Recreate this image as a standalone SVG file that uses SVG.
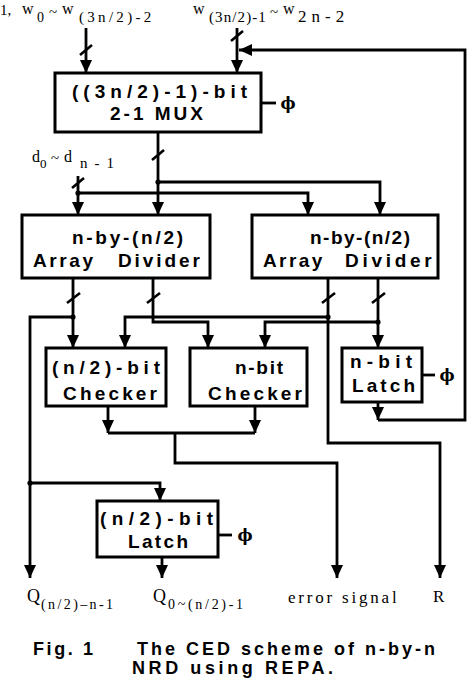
<svg xmlns="http://www.w3.org/2000/svg" width="470" height="678" viewBox="0 0 470 678">
<style>
.box{fill:#fff;stroke:#000;stroke-width:3}
.bt{font-family:"Liberation Sans","Arial",sans-serif;font-weight:bold;font-size:19px;fill:#000}
.sr{font-family:"Liberation Serif","Times New Roman",serif;fill:#000}
.ph{font-family:"DejaVu Serif","Liberation Serif",serif;font-weight:bold;font-size:16px;fill:#000;text-anchor:middle}
.cap{font-family:"Liberation Sans","Arial",sans-serif;font-weight:bold;font-size:18px;fill:#000}
.w{fill:none;stroke:#000;stroke-width:2.8}
.a{marker-end:url(#ah)}
.sl{stroke:#000;stroke-width:2.6}
.dot{fill:#000}
</style>
<defs>
<marker id="ah" markerUnits="userSpaceOnUse" markerWidth="13" markerHeight="12" refX="13" refY="6" orient="auto" viewBox="0 0 13 12"><path d="M0,0 L13,6 L0,12 z" fill="#000"/></marker>
</defs>
<rect width="470" height="678" fill="#fff"/>

<g id="top-labels">
<text class="sr" font-size="15"><tspan x="0" y="15">1,</tspan><tspan x="22" y="14" font-size="16">w</tspan><tspan x="37" y="22" font-size="14">0</tspan><tspan x="49" y="17">~</tspan><tspan x="62" y="14" font-size="16">w</tspan><tspan x="79" y="22" font-size="15" letter-spacing="3.3">(3n/2)-2</tspan></text>
<text class="sr" font-size="15"><tspan x="193" y="14" font-size="16">w</tspan><tspan x="209" y="22" font-size="15" letter-spacing="1.1">(3n/2)-1</tspan><tspan x="270" y="17">~</tspan><tspan x="283" y="14" font-size="16">w</tspan><tspan x="298" y="22" font-size="17" letter-spacing="5">2n-2</tspan></text>
</g>

<g id="mux">
<rect class="box" x="55" y="73" width="206" height="59"/>
<text class="bt" x="72" y="98" textLength="175" lengthAdjust="spacing">((3n/2)-1)-bit</text>
<text class="bt" x="110" y="120" textLength="93" lengthAdjust="spacing">2-1 MUX</text>
<text class="ph" x="288" y="109">ϕ</text>
</g>

<g id="d-label">
<text class="sr" font-size="16"><tspan x="32" y="162">d</tspan><tspan x="40" y="168" font-size="13">0</tspan><tspan x="51" y="163" font-size="15">~</tspan><tspan x="64" y="162">d</tspan><tspan x="80" y="168" font-size="15" letter-spacing="7">n-1</tspan></text>
</g>

<g id="divider-left">
<rect class="box" x="22" y="215" width="188" height="63"/>
<text class="bt" x="72" y="244" textLength="111" lengthAdjust="spacing">n-by-(n/2)</text>
<text class="bt" y="267"><tspan x="33" letter-spacing="2.6">Array</tspan><tspan x="118" letter-spacing="2.9">Divider</tspan></text>
</g>

<g id="divider-right">
<rect class="box" x="252" y="215" width="186" height="63"/>
<text class="bt" x="310" y="244" textLength="100" lengthAdjust="spacing">n-by-(n/2)</text>
<text class="bt" y="267"><tspan x="263" letter-spacing="2.4">Array</tspan><tspan x="345" letter-spacing="3.7">Divider</tspan></text>
</g>

<g id="checker-half">
<rect class="box" x="46" y="348" width="120" height="58"/>
<text class="bt" x="52" y="374" textLength="108" lengthAdjust="spacing">(n/2)-bit</text>
<text class="bt" x="63" y="400" textLength="94" lengthAdjust="spacing">Checker</text>
</g>

<g id="checker-n">
<rect class="box" x="190" y="348" width="117" height="58"/>
<text class="bt" x="235" y="374" textLength="48" lengthAdjust="spacing">n-bit</text>
<text class="bt" x="208" y="400" textLength="94" lengthAdjust="spacing">Checker</text>
</g>

<g id="latch-n">
<rect class="box" x="342" y="348" width="80" height="54"/>
<text class="bt" x="350" y="368" textLength="62" lengthAdjust="spacing">n-bit</text>
<text class="bt" x="352" y="392" textLength="63" lengthAdjust="spacing">Latch</text>
<text class="ph" x="447" y="381">ϕ</text>
</g>

<g id="latch-half">
<rect class="box" x="97" y="501" width="121" height="56"/>
<text class="bt" x="100" y="525" textLength="113" lengthAdjust="spacing">(n/2)-bit</text>
<text class="bt" x="128" y="548" textLength="60" lengthAdjust="spacing">Latch</text>
<text class="ph" x="245" y="541">ϕ</text>
</g>

<g id="connectors">
<path class="w a" d="M86,28 V73"/>
<path class="w a" d="M237,28 V73"/>
<path class="w a" d="M378,402 V420"/>
<path class="w a" d="M378,420 H465 V50 H239"/>
<path class="w" d="M261,103 H276"/>
<path class="w a" d="M158,132 V215"/>
<path class="w a" d="M158,182 H380 V215"/>
<path class="w a" d="M78,176 V215"/>
<path class="w a" d="M78,193 H308 V215"/>
<path class="w a" d="M73,278 V348"/>
<path class="w a" d="M73,317 H30 V578"/>
<path class="w a" d="M153,278 V322 H208 V348"/>
<path class="w a" d="M328,278 V443 H440 V578"/>
<path class="w a" d="M328,317 H125 V348"/>
<path class="w a" d="M378,278 V348"/>
<path class="w a" d="M378,322 H265 V348"/>
<path class="w a" d="M108,406 V433"/>
<path class="w a" d="M255,406 V433"/>
<path class="w" d="M108,433 H255"/>
<path class="w a" d="M175,433 V463 H337 V578"/>
<path class="w a" d="M30,483 H160 V501"/>
<path class="w a" d="M162,557 V578"/>
<path class="w" d="M218,535 H232"/>
<path class="w" d="M422,375 H435"/>
<line class="sl" x1="80" y1="55" x2="92" y2="45"/>
<line class="sl" x1="231" y1="41" x2="243" y2="31"/>
<line class="sl" x1="152" y1="160" x2="164" y2="150"/>
<line class="sl" x1="72" y1="188" x2="84" y2="178"/>
<line class="sl" x1="67" y1="303" x2="80" y2="293"/>
<line class="sl" x1="147" y1="303" x2="160" y2="293"/>
<line class="sl" x1="322" y1="303" x2="335" y2="293"/>
<line class="sl" x1="372" y1="303" x2="385" y2="293"/>
<circle class="dot" cx="158" cy="182" r="2.6"/>
<circle class="dot" cx="78" cy="193" r="2.6"/>
<circle class="dot" cx="73" cy="317" r="2.6"/>
<circle class="dot" cx="328" cy="317" r="2.6"/>
<circle class="dot" cx="378" cy="322" r="2.6"/>
<circle class="dot" cx="30" cy="483" r="2.6"/>
</g>

<g id="output-labels">
<text class="sr" font-size="18"><tspan x="27" y="602">Q</tspan><tspan x="41" y="609" font-size="14" letter-spacing="2.4">(n/2)–n-1</tspan></text>
<text class="sr" font-size="18"><tspan x="153" y="602">Q</tspan><tspan x="168" y="609" font-size="14" letter-spacing="2.7">0~(n/2)-1</tspan></text>
<text class="sr" font-size="17" x="288" y="603" letter-spacing="2.8">error signal</text>
<text class="sr" font-size="17" x="433" y="602">R</text>
</g>

<g id="caption">
<text class="cap" x="33" y="655" textLength="60" lengthAdjust="spacing">Fig. 1</text>
<text class="cap" x="137" y="655" textLength="298" lengthAdjust="spacing">The CED scheme of n-by-n</text>
<text class="cap" x="132" y="674" textLength="201" lengthAdjust="spacing">NRD using REPA.</text>
</g>
</svg>
